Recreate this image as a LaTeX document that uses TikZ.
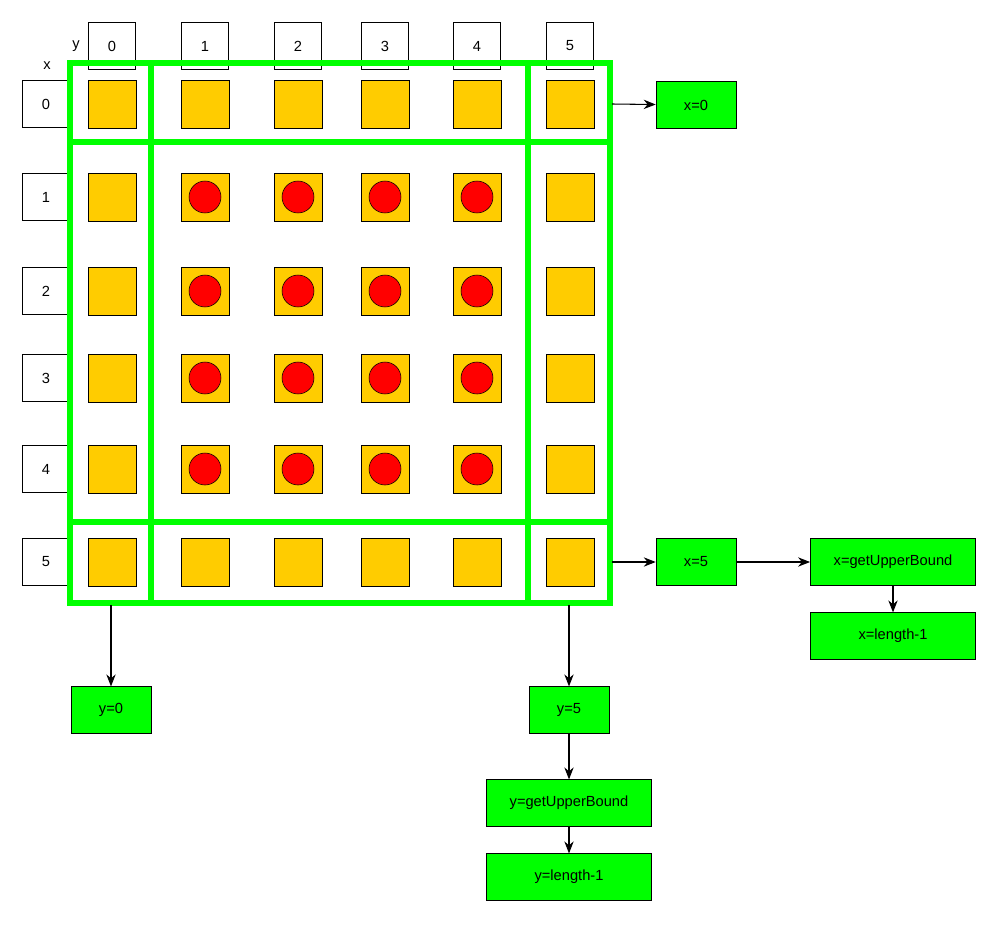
\documentclass[tikz,border=0pt]{standalone}
\usepackage{fontspec}
\setmainfont{Liberation Sans}
\usetikzlibrary{arrows.meta}
\begin{document}
\begin{tikzpicture}[x=0.75pt,y=-0.75pt,
  cell/.style={draw=black,fill={rgb,255:red,255;green,204;blue,0},minimum size=36pt,inner sep=0pt},
  hdr/.style={draw=black,fill=white,minimum size=35pt,inner sep=0pt,font=\fontsize{11}{13}\selectfont},
  dot/.style={draw=black,fill=red,circle,minimum size=24pt,inner sep=0pt},
  gbox/.style={draw=black,fill={rgb,255:red,0;green,255;blue,0},minimum height=35pt,inner sep=0pt,font=\fontsize{11}{13}\selectfont},
  frame/.style={draw={rgb,255:red,0;green,255;blue,0},line width=4.5pt},
  arr/.style={-{Stealth[length=9pt,width=7pt]},black,line width=0.8pt}]
\useasboundingbox (0,0) rectangle (1000,925);
% headers
\foreach \c/\x in {0/112,1/205,2/298,3/385,4/477,5/570}{
  \node[hdr] (h\c) at (\x,46) {\c};}
\foreach \r/\y in {0/104,1/197,2/291,3/378,4/469,5/562}{
  \node[hdr] (v\r) at (46,\y) {\r};}
\node[font=\fontsize{11}{13}\selectfont] (ly) at (76,46) {y};
\node[font=\fontsize{11}{13}\selectfont] (lx) at (47,66) {x};
% cells
\foreach \c/\x in {0/112,1/205,2/298,3/385,4/477,5/570}{
  \foreach \r/\y in {0/104,1/197,2/291,3/378,4/469,5/562}{
    \node[cell] (c\c\r) at (\x,\y) {};}}
\foreach \c in {1,2,3,4}{\foreach \r in {1,2,3,4}{\node[dot] at (c\c\r) {};}}
% frames
\draw[frame] (70,63) rectangle (610,603);
\draw[frame] (151,63) -- (151,603);
\draw[frame] (528,63) -- (528,603);
\draw[frame] (70,142) -- (610,142);
\draw[frame] (70,522) -- (610,522);
% green boxes
\node[gbox,minimum width=60pt] (x0) at (696,105) {x=0};
\node[gbox,minimum width=60pt] (x5) at (696,562) {x=5};
\node[gbox,minimum width=124pt] (xu) at (893,562) {x=getUpperBound};
\node[gbox,minimum width=124pt] (xl) at (893,636) {x=length-1};
\node[gbox,minimum width=60pt] (y0) at (111,710) {y=0};
\node[gbox,minimum width=60pt] (y5) at (569,710) {y=5};
\node[gbox,minimum width=124pt] (yu) at (569,803) {y=getUpperBound};
\node[gbox,minimum width=124pt] (yl) at (569,877) {y=length-1};
\coordinate (a0) at (612,104);
\coordinate (a5) at (612,562);
\coordinate (b0) at (111,605);
\coordinate (b5) at (569,605);
\draw[arr] (a0) -- (x0);
\draw[arr] (a5) -- (x5);
\draw[arr] (x5) -- (xu);
\draw[arr] (xu) -- (xl);
\draw[arr] (b0) -- (y0);
\draw[arr] (b5) -- (y5);
\draw[arr] (y5) -- (yu);
\draw[arr] (yu) -- (yl);
\end{tikzpicture}
\end{document}
